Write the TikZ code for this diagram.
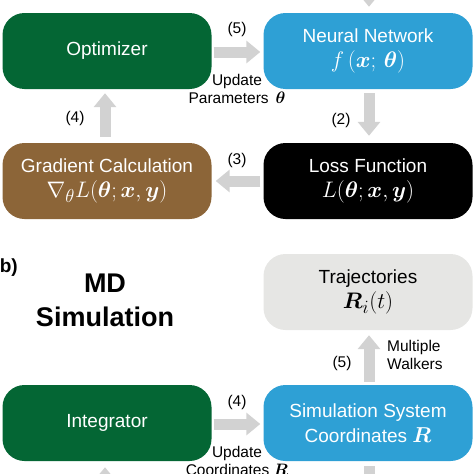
\documentclass[tikz,border=0pt]{standalone}
\usepackage{fontspec}
\setmainfont{Liberation Sans}
\usepackage{bm}
\usepackage{graphicx}
\usetikzlibrary{arrows.meta}
\definecolor{optgreen}{RGB}{4,102,52}
\definecolor{nnblue}{RGB}{46,160,213}
\definecolor{gradbrown}{RGB}{140,101,56}
\definecolor{trajgray}{RGB}{230,230,228}
\definecolor{arrowgray}{RGB}{210,210,210}
\newcommand{\mybigmath}[1]{\scalebox{1.3}{$#1$}}
\begin{document}
\begin{tikzpicture}[x=1pt,y=-1pt,
  box/.style={rounded corners=22pt, minimum width=209pt, minimum height=76pt, inner sep=0pt, align=center, font=\fontsize{19}{25}\selectfont, text=white},
  flow/.style={draw=arrowgray, line width=11pt, -{Triangle[width=22pt,length=14pt]}},
  lab/.style={font=\fontsize{15.5}{18.5}\selectfont, inner sep=0pt, align=center},
]
\useasboundingbox (0,0) rectangle (474,474);
\clip (0,0) rectangle (474,474);
% part a
\node[box, fill=optgreen] (opt) at (107,51) {Optimizer};
\node[box, fill=nnblue] (nn) at (368,51) {Neural Network\\ \mybigmath{f\,(\bm{x};\,\bm{\theta})}};
\node[box, fill=gradbrown] (grad) at (107,181) {Gradient Calculation\\ \mybigmath{\nabla_{\theta}L(\bm\theta;\bm x,\bm y)}};
\node[box, fill=black] (loss) at (368,181) {Loss Function\\ \mybigmath{L(\bm\theta;\bm x,\bm y)}};
\coordinate (topin) at (369,-25);
\draw[flow] (topin) -- ([yshift=6pt,xshift=1pt]nn.north);
\draw[flow] ([xshift=2pt,yshift=-1pt]opt.east) -- ([xshift=-3pt,yshift=-1pt]nn.west);
\draw[flow] ([yshift=-4pt,xshift=1pt]nn.south) -- ([yshift=7pt,xshift=1pt]loss.north);
\draw[flow] ([xshift=-3pt]loss.west) -- ([xshift=4pt]grad.east);
\draw[flow] ([yshift=6pt,xshift=-2pt]grad.north) -- ([yshift=-4pt,xshift=-2pt]opt.south);
\node[lab] (l5a) at (237,29) {(5)};
\node[lab] (upa) at (237,89) {Update\\Parameters\, \scalebox{1.15}{$\bm\theta$}};
\node[lab] (l2a) at (341,120) {(2)};
\node[lab] (l3a) at (237,160) {(3)};
\node[lab] (l4a) at (75,118) {(4)};
% part b
\node[anchor=east, font=\bfseries\fontsize{19}{23}\selectfont, inner sep=0pt] (blab) at (18,268) {b)};
\node[align=center, font=\bfseries\fontsize{27}{34}\selectfont, inner sep=0pt] (md) at (105,300) {MD\\Simulation};
\node[box, fill=trajgray, text=black] (traj) at (368,292) {Trajectories\\ \mybigmath{\bm R_i(t)}};
\node[box, fill=optgreen] (integ) at (107,423) {Integrator};
\node[box, fill=nnblue] (sim) at (368,423) {Simulation System\\ Coordinates \scalebox{1.25}{$\bm R$}};
\draw[flow] ([xshift=2pt,yshift=-1pt]integ.east) -- ([xshift=-3pt,yshift=-1pt]sim.west);
\draw[flow] ([yshift=3pt,xshift=1pt]sim.north) -- ([yshift=-5pt,xshift=1pt]traj.south);
\coordinate (botin) at (105,505);
\coordinate (botout) at (369,510);
\draw[flow] (botin) -- ([yshift=-6pt,xshift=-2pt]integ.south);
\draw[flow] ([yshift=-5pt,xshift=1pt]sim.south) -- (botout);
\node[lab] (l4b) at (237,402) {(4)};
\node[lab] (upb) at (237,461) {Update\\Coordinates \scalebox{1.15}{$\bm R$}};
\node[lab] (l5b) at (342,363) {(5)};
\node[lab, anchor=west, align=left] (walk) at (387,355) {Multiple\\Walkers};
\end{tikzpicture}
\end{document}
